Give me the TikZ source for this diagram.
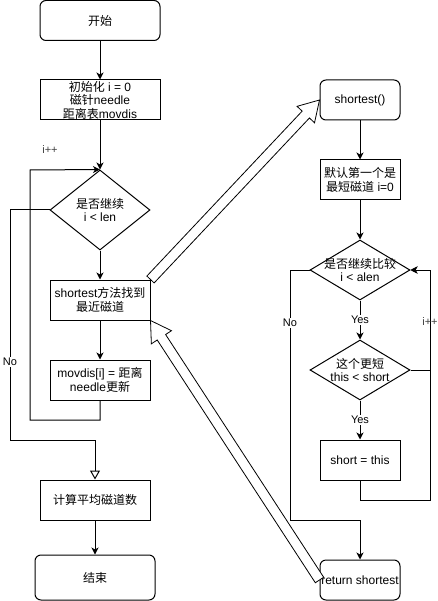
\documentclass[tikz,border=0pt]{standalone}
\usepackage{fontspec}
\setmainfont{Liberation Sans}
\newfontfamily\cjk{Noto Sans CJK SC}
\newcommand\zh[1]{{\cjk #1}}
\usetikzlibrary{shapes.geometric,arrows.meta,calc}
\tikzset{
  base/.style={draw, line width=1pt, align=center, font=\fontsize{12}{13.5}\selectfont, inner sep=0pt},
  proc/.style={base, rectangle, minimum width=#1, minimum height=40pt},
  rproc/.style={proc=#1, rounded corners=6pt},
  dia/.style={draw, line width=1pt, diamond, inner sep=0pt, minimum width=100pt, minimum height=#1},
  dtext/.style={align=center, font=\fontsize{12}{13.5}\selectfont, inner sep=0pt},
  ar/.style={line width=1pt, -{Stealth[length=7pt,width=7pt,inset=2pt]}},
  lab/.style={font=\fontsize{11}{13}\selectfont, fill=white, inner sep=1pt},
  plainlab/.style={font=\fontsize{11}{13}\selectfont, text=black!75, inner sep=1pt},
  flex/.style={draw, fill=white, line width=0.8pt, line join=miter},
}
\newcommand\flexarrow[2]{%
  \coordinate (fxh) at ($(#2)!20pt!(#1)$);
  \draw[flex] ($(#1)!5pt!90:(#2)$) -- ($(fxh)!5pt!90:(#2)$) -- ($(fxh)!12pt!90:(#2)$) -- (#2)
     -- ($(fxh)!12pt!-90:(#2)$) -- ($(fxh)!5pt!-90:(#2)$) -- ($(#1)!5pt!-90:(#2)$) -- cycle;}
\begin{document}
\begin{tikzpicture}[x=1pt,y=-1pt]
\useasboundingbox (0,0) rectangle (438,601);
\fill[white] (0,0) rectangle (438,601);

% left column
\node[rproc=120pt] (start) at (100,20.5) {\zh{开始}};
\node[proc=120pt] (init) at (100,100) {\zh{初始化} i = 0\\\zh{磁针}needle\\\zh{距离表}movdis};
\node[dia=80pt] (d1) at (100,210) {};
\node[dtext] (d1t) at (d1) {\zh{是否继续}\\i < len};
\node[proc=100pt] (sm) at (100,300) {shortest\zh{方法找到}\\\zh{最近磁道}};
\node[proc=100pt] (mv) at (100,380) {movdis[i] = \zh{距离}\\needle\zh{更新}};
\node[proc=110pt] (avg) at (95,500) {\zh{计算平均磁道数}};
\node[rproc=120pt, minimum height=45pt] (end) at (95,577.5) {\zh{结束}};

% right column
\node[rproc=80pt] (sh) at (360,100) {shortest()};
\node[proc=80pt] (def) at (360,180) {\zh{默认第一个是}\\\zh{最短磁道} i=0};
\node[dia=60pt] (d2) at (360,270) {};
\node[dtext] (d2t) at (d2) {\zh{是否继续比较}\\i < alen};
\node[dia=60pt] (d3) at (360,370) {};
\node[dtext] (d3t) at (d3) {\zh{这个更短}\\this < short};
\node[proc=80pt] (st) at (360,460) {short = this};
\node[rproc=80pt] (ret) at (360,580) {return shortest};

% left connectors
\draw[ar] (start) -- (init);
\draw[ar] (init) -- (d1.north);
\draw[ar] (d1) -- (sm);
\draw[ar] (sm) -- (mv);
\draw[ar] (mv.south) -- (100,420) -- (30,420) -- (30,170) -- (d1.north);
\draw[line width=1pt, -{Triangle[open,length=9pt,width=10pt]}] (d1.west) -- (10,210) -- (10,440) -- (95,440) -- (avg.north);
\node[lab] (nol) at (10,362) {No};
\draw[ar] (avg) -- (end);
\node[plainlab] (ipl) at (50,150) {i++};

% right connectors
\draw[ar] (sh) -- (def);
\draw[ar] (def) -- (d2);
\draw[ar] (d2.west) -- (290,270) -- (290,520) -- (360,520) -- (ret.north);
\node[lab] (nor) at (290,323) {No};
\draw[ar] (d2.south) -- (d3.north) node[lab, midway] {Yes};
\draw[ar] (d3.south) -- (st.north) node[lab, midway] {Yes};
\draw[ar] (d3.east) -- (430,370) -- (430,270) -- (d2.east);
\draw[ar] (st.south) -- (360,500) -- (430,500) -- (430,270) -- (d2.east);
\node[plainlab] (ipr) at (430,322) {i++};

% big hollow arrows
\flexarrow{sm.north east}{sh.west}
\flexarrow{ret.west}{sm.south east}
\end{tikzpicture}
\end{document}
